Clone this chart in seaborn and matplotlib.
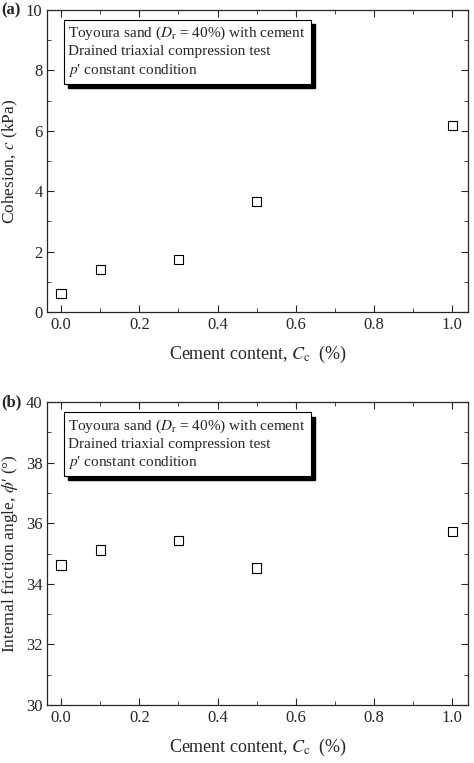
import matplotlib
matplotlib.use("Agg")
import matplotlib.pyplot as plt
import matplotlib.transforms as mtransforms
import seaborn as sns
import pandas as pd
from matplotlib.ticker import MultipleLocator

cement = [0.0, 0.1, 0.3, 0.5, 1.0]
cohesion = [0.62, 1.42, 1.75, 3.65, 6.18]
friction = [34.62, 35.12, 35.42, 34.52, 35.72]

sns.set_style("ticks")
plt.rcParams['font.family'] = ['Liberation Serif', 'DejaVu Serif']
plt.rcParams['mathtext.fontset'] = 'stix'

fig = plt.figure(figsize=(4.74, 7.63), dpi=100)
ax1 = fig.add_axes([0.1, 0.591, 0.887, 0.396])
ax2 = fig.add_axes([0.1, 0.076, 0.887, 0.397])

df = pd.DataFrame({"cc": cement, "c": cohesion, "phi": friction})
box_text = ("Toyoura sand ($D_{\\mathrm{r}}$ = 40%) with cement\n"
            "Drained triaxial compression test\n"
            "$p$\u2032 constant condition")

for ax, col, ylim, ylabel, tag, ty in [
    (ax1, "c", (0, 10), "Cohesion, $c$ (kPa)", "(a)", 0.987),
    (ax2, "phi", (30, 40), "Internal friction angle, $\\phi$\u2032 (\u00b0)", "(b)", 0.473)]:
    sns.scatterplot(data=df, x="cc", y=col, ax=ax, marker="s", s=45,
                    facecolor="none", edgecolor="black", linewidth=0.8)
    ax.set_xlim(-0.035, 1.04)
    ax.set_ylim(*ylim)
    ax.xaxis.set_major_locator(MultipleLocator(0.2))
    ax.xaxis.set_minor_locator(MultipleLocator(0.1))
    ax.yaxis.set_major_locator(MultipleLocator(2))
    ax.yaxis.set_minor_locator(MultipleLocator(1))
    ax.tick_params(which="both", direction="in", top=True, right=True, labelsize=12)
    ax.tick_params(which="major", length=5)
    ax.tick_params(which="minor", length=3)
    ax.set_xticklabels([f"{v:.1f}" for v in ax.get_xticks()])
    ax.set_xlabel("Cement content, $C_{\\mathrm{c}}$  (%)", fontsize=13, labelpad=8)
    ax.set_ylabel(ylabel, fontsize=12.5, labelpad=4)
    for s in ax.spines.values():
        s.set_linewidth(0.9)
    shadow = mtransforms.offset_copy(ax.transAxes, fig=fig, x=3, y=-3, units="points")
    ax.text(0.05, 0.95, box_text, transform=shadow, fontsize=11, va="top", ha="left",
            color="none", linespacing=1.3,
            bbox=dict(boxstyle="square,pad=0.3", facecolor="black", edgecolor="black"))
    ax.text(0.05, 0.95, box_text, transform=ax.transAxes, fontsize=11, va="top", ha="left",
            linespacing=1.3,
            bbox=dict(boxstyle="square,pad=0.3", facecolor="white", edgecolor="black", linewidth=0.8))
    fig.text(0.002, ty, tag, fontsize=12, fontweight="bold", va="center", ha="left")

fig.savefig("out.png", dpi=100)
